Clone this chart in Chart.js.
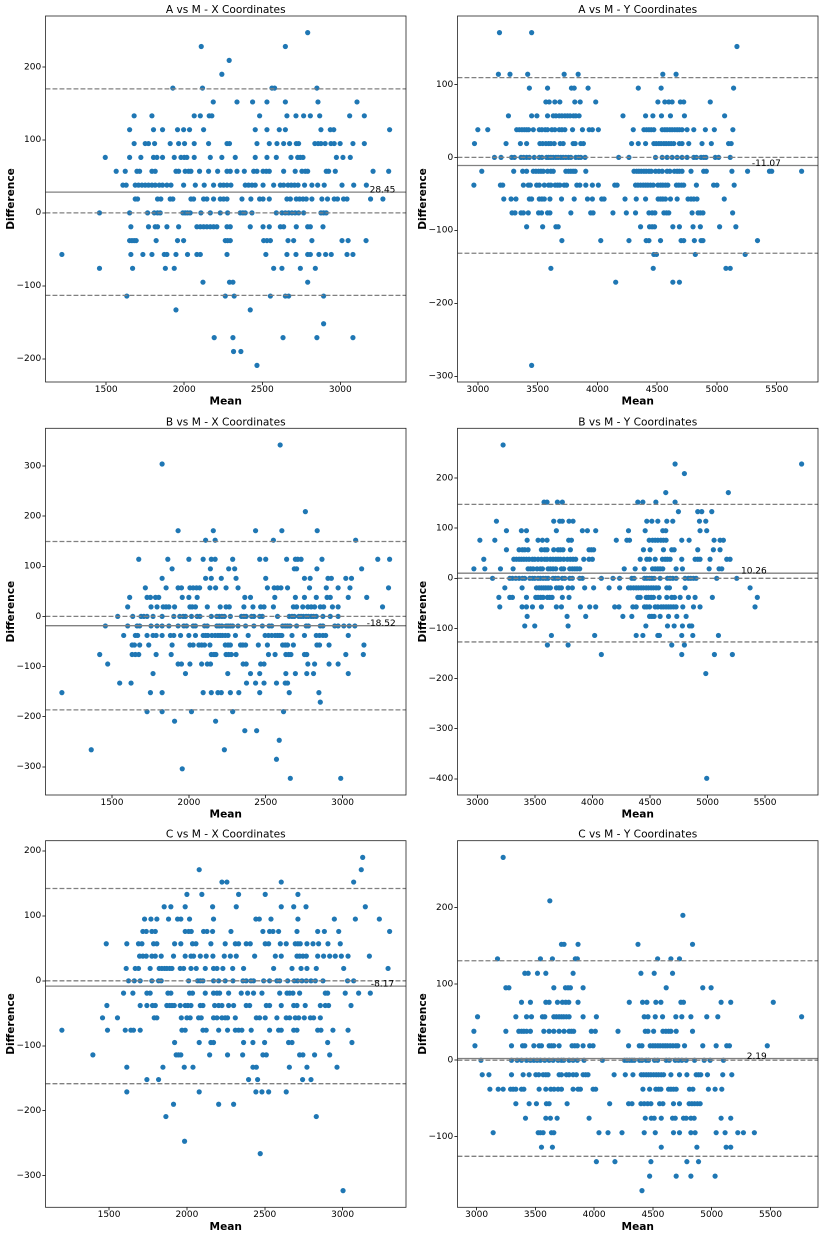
<!DOCTYPE html>
<html>
<head>
<meta charset="utf-8">
<script src="https://cdn.jsdelivr.net/npm/chart.js@4.4.1/dist/chart.umd.min.js"></script>
<style>
  html, body { margin: 0; padding: 0; background: #ffffff; overflow: hidden; }
  body { width: 824px; height: 1235px; position: relative; }
  canvas { position: absolute; }
</style>
</head>
<body>
<canvas id="c0" width="412" height="412" style="left:0px;top:0px;width:412px;height:412px"></canvas>
<canvas id="c1" width="412" height="412" style="left:412px;top:0px;width:412px;height:412px"></canvas>
<canvas id="c2" width="412" height="412" style="left:0px;top:412px;width:412px;height:412px"></canvas>
<canvas id="c3" width="412" height="412" style="left:412px;top:412px;width:412px;height:412px"></canvas>
<canvas id="c4" width="412" height="412" style="left:0px;top:824px;width:412px;height:412px"></canvas>
<canvas id="c5" width="412" height="412" style="left:412px;top:824px;width:412px;height:412px"></canvas>
<script>
// ---------------- DATA ----------------
// Each row: [difference, [means...]]
const titles = ['A vs M - X Coordinates', 'A vs M - Y Coordinates',
                'B vs M - X Coordinates', 'B vs M - Y Coordinates',
                'C vs M - X Coordinates', 'C vs M - Y Coordinates'];
const xAxisLabel = 'Mean';
const yAxisLabel = 'Difference';

const meanDiff = [28.45, -11.07, -18.52, 10.26, -8.17, 2.19];
const upperLoA = [169.96, 109.3, 149.5, 147.5, 142.1, 130.4];
const lowerLoA = [-113.06, -131.4, -186.5, -126.9, -158.4, -126.0];
const labelX   = [3188, 5292, 3157, 5291, 3182, 5298];

const xTicksLeft  = [1500, 2000, 2500, 3000];
const xTicksRight = [3000, 3500, 4000, 4500, 5000, 5500];
const yTicksAX = [-200, -100, 0, 100, 200];
const yTicksAY = [-300, -200, -100, 0, 100];
const yTicksBX = [-300, -200, -100, 0, 100, 200, 300];
const yTicksBY = [-400, -300, -200, -100, 0, 100, 200];
const yTicksCX = [-300, -200, -100, 0, 100, 200];
const yTicksCY = [-100, 0, 100, 200];

const AX_rows = [
  [247, [2791]],
  [228, [2109, 2648]],
  [209, [2288]],
  [190, [2241]],
  [171, [1927, 2117, 2562, 2579, 2850]],
  [152, [2186, 2338, 2438, 2530, 2648, 2857, 3107]],
  [133, [1679, 1793, 2064, 2103, 2160, 2177, 2483, 2658, 2716, 2765, 2808, 2868, 3060, 3154]],
  [114, [1650, 1803, 1861, 1957, 1996, 2034, 2124, 2455, 2530, 2609, 2648, 2876, 2936, 2958, 3316]],
  [95, [1679, 1750, 1771, 1810, 1910, 1964, 2002, 2064, 2156, 2274, 2290, 2466, 2545, 2594, 2637, 2675, 2718, 2733, 2837, 2858, 2876, 2903, 2940, 2961, 2999, 3081, 3154]],
  [76, [1494, 1650, 1722, 1803, 1825, 1861, 1936, 1979, 2000, 2017, 2064, 2167, 2241, 2327, 2455, 2530, 2590, 2684, 2727, 2744, 2761, 2975, 3017, 3064]],
  [57, [1564, 1622, 1697, 1714, 1793, 1814, 1947, 1964, 2006, 2028, 2043, 2098, 2156, 2214, 2274, 2295, 2338, 2385, 2445, 2466, 2505, 2526, 2545, 2637, 2711, 2754, 2776, 2791, 2910, 2925, 2968, 3210, 3310]],
  [38, [1607, 1628, 1686, 1707, 1729, 1750, 1771, 1793, 1814, 1840, 1861, 1889, 1915, 1996, 2071, 2128, 2188, 2231, 2252, 2274, 2299, 2391, 2412, 2434, 2455, 2505, 2573, 2616, 2637, 2665, 2686, 2707, 2729, 2771, 2818, 2855, 2897, 3011, 3086, 3167]],
  [19, [1686, 1701, 1829, 1850, 1910, 1927, 2043, 2060, 2124, 2145, 2188, 2231, 2252, 2274, 2370, 2427, 2483, 2505, 2545, 2658, 2680, 2718, 2739, 2761, 2782, 2818, 2882, 2918, 2961, 2982, 3021, 3043, 3194, 3273]],
  [0, [1457, 1650, 1765, 1808, 1829, 1846, 1991, 2006, 2021, 2038, 2107, 2167, 2231, 2278, 2359, 2376, 2391, 2434, 2590, 2626, 2648, 2669, 2690, 2711, 2733, 2765, 2876, 2893, 2910]],
  [-19, [1658, 1771, 1814, 1829, 1889, 1964, 2081, 2103, 2124, 2145, 2167, 2188, 2209, 2274, 2295, 2423, 2505, 2545, 2616, 2637, 2718, 2791, 2808, 2889]],
  [-38, [1650, 1665, 1679, 1692, 1820, 1957, 1996, 2263, 2278, 2295, 2509, 2530, 2552, 2665, 2701, 2818, 3011, 3050, 3165]],
  [-57, [1216, 1658, 1735, 1793, 1872, 1889, 1947, 2021, 2081, 2103, 2274, 2523, 2658, 2716, 2791, 2808, 2863, 2906, 2942, 3043, 3081]],
  [-76, [1457, 1669, 1879, 1936, 2573, 2626, 2744, 2840]],
  [-95, [2120, 2290, 2312, 2791]],
  [-114, [1632, 2263, 2320, 2552, 2648, 2669, 2893]],
  [-133, [1947, 2423]],
  [-152, [2893]],
  [-171, [2192, 2312, 2633, 2850, 3081]],
  [-190, [2316, 2363]],
  [-209, [2466]]
];

const AY_rows = [
  [171, [3181, 3450]],
  [152, [5167]],
  [114, [3172, 3269, 3417, 3722, 3839, 4547, 4658]],
  [95, [3431, 3583, 3783, 3806, 3922, 4342, 4533, 5139]],
  [76, [3569, 3597, 3644, 3686, 3811, 3856, 3986, 4506, 4564, 4597, 4625, 4694, 4722, 4944]],
  [57, [3256, 3450, 3494, 3583, 3631, 3653, 3681, 3703, 3728, 3750, 3772, 3800, 3819, 3847, 4214, 4403, 4464, 4536, 4611, 4728, 5064]],
  [38, [3000, 3083, 3325, 3347, 3369, 3389, 3408, 3425, 3464, 3514, 3536, 3564, 3583, 3619, 3644, 3681, 3703, 3728, 3792, 3875, 3931, 3958, 4008, 4300, 4389, 4411, 4431, 4450, 4472, 4542, 4564, 4583, 4606, 4625, 4647, 4667, 4686, 4708, 4750, 4806, 4903, 4978, 5133]],
  [19, [2972, 3236, 3356, 3408, 3519, 3542, 3569, 3592, 3611, 3639, 3689, 3714, 3797, 3814, 3861, 3883, 4286, 4342, 4403, 4472, 4492, 4514, 4533, 4556, 4575, 4597, 4617, 4639, 4686, 4708, 4764, 4875, 4953, 5097, 5119]],
  [0, [3139, 3194, 3283, 3306, 3361, 3383, 3408, 3431, 3472, 3514, 3536, 3575, 3592, 3611, 3631, 3653, 3672, 3694, 3714, 3736, 3758, 3778, 3819, 3842, 3861, 3897, 4178, 4264, 4486, 4542, 4583, 4625, 4667, 4708, 4750, 4806, 4828, 4867, 4889, 4908, 4986, 5014, 5111]],
  [-19, [3033, 3300, 3375, 3408, 3464, 3486, 3508, 3528, 3547, 3583, 3611, 3631, 3736, 3758, 3778, 3797, 3814, 3903, 4306, 4328, 4347, 4367, 4389, 4408, 4431, 4450, 4486, 4514, 4542, 4583, 4606, 4644, 4667, 4686, 4708, 4783, 4889, 4911, 5125, 5256, 5439, 5458, 5708]],
  [-38, [2967, 3189, 3208, 3381, 3422, 3439, 3492, 3514, 3556, 3592, 3611, 3647, 3667, 3686, 3722, 3742, 3828, 3853, 3903, 3958, 4008, 4145, 4165, 4319, 4339, 4361, 4383, 4403, 4422, 4444, 4467, 4506, 4528, 4547, 4569, 4589, 4661, 4681, 4703, 4722, 4828, 4972, 5000, 5144]],
  [-57, [3217, 3278, 3319, 3431, 3450, 3514, 3536, 3556, 3603, 3700, 3806, 3917, 3958, 4036, 4056, 4231, 4325, 4403, 4508, 4528, 4547, 4569, 4611, 4667, 4758, 4783, 4806, 4833, 5061]],
  [-76, [3286, 3311, 3361, 3381, 3422, 3508, 3533, 3583, 3603, 3778, 3944, 3964, 4130, 4242, 4319, 4431, 4458, 4481, 4556, 4578, 4597, 4792, 4842, 4861, 4883, 5131]],
  [-95, [3408, 3542, 3653, 3672, 4361, 4436, 4458, 4478, 4631, 4686, 4800, 4861, 5022, 5158]],
  [-114, [3703, 4028, 4264, 4408, 4431, 4528, 4700, 4722, 4811, 4867, 4883, 5339]],
  [-133, [4472, 4494, 4819, 5236]],
  [-152, [3611, 4467, 5075, 5111]],
  [-171, [4153, 4631, 4686]],
  [-285, [3450]]
];

const BX_rows = [
  [342, [2594]],
  [304, [1826]],
  [209, [2758]],
  [171, [1930, 2159, 2434, 2605, 2835]],
  [152, [2109, 2171, 2550, 3085]],
  [114, [1674, 1863, 2000, 2093, 2146, 2171, 2285, 2461, 2500, 2636, 2693, 2708, 2730, 2866, 3229, 3306]],
  [95, [1891, 2140, 2259, 2298, 2686, 2701, 2833, 3124]],
  [76, [1826, 2109, 2146, 2211, 2307, 2500, 2752, 2789, 2905, 2927, 3021, 3058]],
  [57, [1717, 1852, 1930, 1952, 2007, 2028, 2050, 2070, 2137, 2174, 2242, 2320, 2511, 2555, 2577, 2599, 2642, 2785, 2894, 2971, 3048, 3299]],
  [38, [1615, 1728, 1750, 1783, 1804, 1957, 2000, 2054, 2364, 2401, 2559, 2693, 2752, 2829, 2899, 2920, 3037, 3157]],
  [19, [1602, 1754, 1793, 1833, 1852, 1870, 1907, 2007, 2022, 2043, 2120, 2204, 2242, 2263, 2358, 2417, 2467, 2489, 2550, 2680, 2701, 2741, 2774, 2796, 2818, 2855, 2877, 2934, 2971, 3260]],
  [0, [1537, 1635, 1689, 1707, 1728, 1767, 1826, 1902, 1941, 1963, 1978, 2017, 2054, 2072, 2146, 2182, 2198, 2215, 2231, 2270, 2342, 2358, 2373, 2408, 2423, 2461, 2478, 2577, 2653, 2671, 2686, 2715, 2730, 2745, 2763, 2778, 2796, 2811, 2829, 2872, 2920, 2971]],
  [-19, [1457, 1602, 1663, 1680, 1754, 1793, 1826, 1870, 1930, 1967, 1985, 2028, 2043, 2102, 2120, 2182, 2198, 2215, 2242, 2255, 2270, 2285, 2320, 2369, 2423, 2478, 2522, 2539, 2610, 2627, 2642, 2658, 2701, 2763, 2778, 2855, 2872, 2949, 2971, 3008, 3043, 3080]],
  [-38, [1576, 1652, 1667, 1728, 1767, 1787, 1826, 1880, 1902, 1946, 2000, 2043, 2093, 2109, 2124, 2150, 2171, 2189, 2204, 2219, 2237, 2255, 2303, 2386, 2496, 2518, 2539, 2561, 2577, 2592, 2605, 2671, 2752, 2829, 2850, 2872, 2890, 3037]],
  [-57, [1631, 1646, 1680, 1739, 1891, 2007, 2028, 2065, 2083, 2102, 2137, 2237, 2255, 2270, 2336, 2351, 2369, 2452, 2511, 2610, 2627, 2642, 2680, 2833, 2850, 2912, 3139]],
  [-76, [1420, 1631, 1652, 1674, 1787, 1885, 2146, 2163, 2176, 2242, 2259, 2276, 2307, 2518, 2561, 2631, 2649, 2664, 2752, 2767, 3021, 3135]],
  [-95, [1472, 1930, 1952, 2007, 2083, 2120, 2141, 2353, 2373, 2467, 2489, 2774, 2818, 2912, 2971]],
  [-114, [1767, 1978, 2253, 2401, 2461, 2631, 2693, 2767, 2811, 3037]],
  [-133, [1550, 1624, 2375, 2434, 2489, 2570, 2627, 2642]],
  [-152, [1174, 1750, 1826, 2093, 2146, 2189, 2211, 2270, 2325, 2461, 2653, 2846]],
  [-171, [2855]],
  [-190, [1728, 1826, 2017, 2285, 2616]],
  [-209, [1907, 2174]],
  [-228, [2364, 2441]],
  [-247, [2588]],
  [-266, [1365, 2231]],
  [-285, [2570]],
  [-304, [1957]],
  [-323, [2660, 2988]]
];

const BY_rows = [
  [266, [3223]],
  [228, [4718, 5818]],
  [209, [4799]],
  [171, [4637, 5181]],
  [152, [3579, 3605, 3695, 3738, 4394, 4438, 4551, 4718]],
  [133, [4747, 4915, 4950, 5037]],
  [114, [3165, 3663, 3715, 3738, 3796, 3831, 4472, 4516, 4568, 4646, 4698, 4930, 4985]],
  [95, [3252, 3382, 3426, 3686, 3912, 3956, 4028, 4313, 4458, 4611, 4637, 4935, 4993]],
  [76, [3021, 3151, 3432, 3527, 3565, 3605, 3793, 3817, 4207, 4299, 4322, 4493, 4522, 4545, 4568, 4594, 4617, 4640, 4776, 4840, 5057, 5109, 5138]],
  [57, [3252, 3362, 3391, 3411, 3440, 3556, 3585, 3605, 3663, 3701, 3721, 3744, 3808, 3970, 3990, 4010, 4443, 4501, 4617, 4689, 4710, 4915, 5051, 5109]],
  [38, [3055, 3316, 3339, 3362, 3382, 3403, 3426, 3449, 3478, 3498, 3527, 3556, 3585, 3605, 3634, 3657, 3681, 3701, 3721, 3750, 3782, 3808, 3831, 3854, 3924, 3970, 3999, 4415, 4472, 4496, 4545, 4608, 4632, 4652, 4675, 4776, 4892, 4915, 4935, 5022, 5167, 5196]],
  [19, [2969, 3064, 3200, 3310, 3440, 3461, 3484, 3518, 3547, 3565, 3614, 3634, 3657, 3681, 3730, 3750, 3802, 3825, 3846, 3866, 3889, 4276, 4371, 4449, 4522, 4545, 4568, 4588, 4611, 4727, 4782, 5014, 5100, 5124]],
  [0, [3131, 3281, 3304, 3333, 3362, 3391, 3411, 3455, 3478, 3498, 3527, 3547, 3571, 3594, 3614, 3657, 3678, 3701, 3738, 3759, 3802, 3825, 3889, 3912, 4077, 4178, 4236, 4342, 4362, 4452, 4472, 4496, 4516, 4536, 4588, 4652, 4675, 4698, 4727, 4805, 4834, 4854, 4878, 4901, 5080, 5254]],
  [-19, [3238, 3388, 3513, 3536, 3556, 3576, 3594, 3614, 3634, 3686, 3709, 3730, 3788, 3825, 3932, 4010, 4144, 4236, 4313, 4333, 4357, 4380, 4400, 4423, 4443, 4467, 4487, 4510, 4530, 4553, 4574, 4646, 4669, 4805, 5370]],
  [-38, [3186, 3281, 3304, 3426, 3507, 3527, 3550, 3571, 3608, 3628, 3649, 3738, 3796, 4394, 4415, 4467, 4487, 4510, 4530, 4580, 4646, 4689, 4713, 4762, 4834, 4892, 5042, 5433]],
  [-57, [3194, 3388, 3426, 3478, 3556, 3686, 3730, 3895, 3976, 4028, 4193, 4230, 4351, 4380, 4452, 4472, 4496, 4545, 4568, 4597, 4617, 4640, 4661, 4681, 4704, 4727, 4785, 4878, 4935, 5413]],
  [-76, [3432, 3779, 3941, 4264, 4342, 4496, 4516, 4536, 4588, 4661, 4733, 4814]],
  [-95, [3411, 3498, 3788, 4464, 4652, 4710, 4782, 4843, 4863]],
  [-114, [3643, 4019, 4380, 4438, 4568, 4582, 4776, 4872, 5095]],
  [-133, [3608, 3788, 4689, 4799]],
  [-152, [4077, 4776, 5060, 5216]],
  [-190, [4985]],
  [-399, [4993]]
];

const CX_rows = [
  [190, [3129]],
  [171, [2079, 3120]],
  [152, [2225, 2257, 2606, 3071]],
  [133, [2000, 2096, 2332, 2503, 2713]],
  [114, [1854, 1897, 1989, 2165, 2317, 2606, 2686, 2765, 3146]],
  [95, [1728, 1769, 1807, 1882, 1940, 1961, 2017, 2171, 2443, 2465, 2540, 2713, 2947, 3082, 3236]],
  [76, [1717, 1739, 1775, 1797, 1989, 2011, 2028, 2107, 2129, 2165, 2283, 2488, 2531, 2553, 2589, 2707, 2840, 2883, 2975, 3302]],
  [57, [1482, 1614, 1689, 1711, 1786, 1807, 1921, 1961, 2036, 2058, 2154, 2246, 2311, 2332, 2381, 2407, 2503, 2525, 2600, 2638, 2696, 2713, 2728, 2771, 2810, 2846, 2906, 2985]],
  [38, [1696, 1717, 1739, 1775, 1797, 1835, 1914, 1989, 2026, 2043, 2086, 2124, 2167, 2240, 2279, 2317, 2435, 2568, 2606, 2707, 2724, 2745, 2767, 2840, 2878, 2917, 2953, 2992, 3035, 3172]],
  [19, [1610, 1668, 1689, 1764, 1822, 1839, 1856, 1871, 1889, 1904, 1957, 1979, 2026, 2060, 2118, 2171, 2193, 2231, 2294, 2364, 2557, 2675, 2733, 2771, 2831, 3007, 3292]],
  [0, [1625, 1662, 1700, 1775, 1818, 1835, 2011, 2069, 2086, 2103, 2171, 2204, 2246, 2296, 2360, 2381, 2411, 2428, 2493, 2531, 2578, 2596, 2647, 2690, 2711, 2739, 2767, 2797, 2825, 2874, 3032, 3071]],
  [-19, [1593, 1653, 1743, 1764, 1878, 1897, 2017, 2036, 2118, 2171, 2193, 2210, 2268, 2349, 2390, 2428, 2482, 2596, 2643, 2660, 2681, 2724, 2889, 2904, 3017, 3103, 3178]],
  [-38, [1486, 1700, 1743, 1779, 1797, 1871, 1889, 1904, 1919, 1957, 1989, 2006, 2026, 2086, 2103, 2178, 2204, 2225, 2268, 2300, 2381, 2403, 2510, 2531, 2606, 2686, 2707, 2760, 2857, 2889, 2910, 3054]],
  [-57, [1458, 1554, 1790, 1807, 1964, 2000, 2021, 2075, 2092, 2171, 2193, 2225, 2246, 2261, 2311, 2446, 2467, 2503, 2578, 2638, 2660, 2696, 2718, 2754, 2793, 2814, 2857]],
  [-76, [1197, 1490, 1604, 1640, 1657, 1700, 1968, 1989, 2103, 2124, 2204, 2261, 2311, 2332, 2353, 2413, 2531, 2589, 2606, 2686, 2707, 2840, 2861, 2938, 3035]],
  [-95, [1921, 2079, 2154, 2171, 2364, 2424, 2499, 2653, 2675, 2904, 3060]],
  [-114, [1396, 1931, 1946, 1961, 2146, 2261, 2358, 2488, 2510, 2724, 2745, 2820, 2917]],
  [-133, [1614, 1846, 1983, 2039, 2424, 2446, 2658, 2771, 2964]],
  [-152, [1743, 1818, 2396, 2454, 2743, 2797]],
  [-171, [1614, 2079, 2443, 2482, 2525, 2638]],
  [-190, [1914, 2204, 2300]],
  [-209, [1865, 2831]],
  [-247, [1985]],
  [-266, [2471]],
  [-323, [3003]]
];

const CY_rows = [
  [266, [3226]],
  [209, [3623]],
  [190, [4755]],
  [152, [3722, 3744, 3863, 4373, 4837]],
  [133, [3178, 3543, 3645, 3840, 3857, 4540, 4653, 4726]],
  [114, [3410, 3439, 3518, 3589, 3821, 4398, 4511, 4667]],
  [95, [3249, 3275, 3657, 3756, 3778, 3798, 3906, 4613, 4924, 4995]],
  [76, [3382, 3458, 3589, 3617, 3688, 3730, 3758, 3784, 3863, 4299, 4412, 4449, 4525, 4568, 4738, 4760, 5080, 5162, 5524]],
  [57, [3008, 3334, 3425, 3467, 3560, 3580, 3657, 3679, 3702, 3722, 3741, 3764, 3787, 3906, 4019, 4426, 4458, 4520, 4582, 4695, 4746, 4823, 4958, 5052, 5765]],
  [38, [2977, 3249, 3359, 3382, 3402, 3425, 3458, 3572, 3617, 3657, 3702, 3744, 3787, 3807, 3826, 3976, 4010, 4203, 4435, 4458, 4506, 4585, 4610, 4633, 4653, 4698, 4837]],
  [19, [2986, 3297, 3391, 3410, 3487, 3532, 3552, 3617, 3637, 3657, 3702, 3812, 3835, 3857, 3906, 3962, 3991, 4293, 4384, 4407, 4477, 4500, 4520, 4542, 4562, 4585, 4605, 4624, 4647, 4670, 4695, 4712, 4769, 4924, 5038, 5128, 5151, 5473]],
  [0, [3037, 3297, 3345, 3382, 3425, 3458, 3487, 3515, 3543, 3580, 3617, 3651, 3693, 3722, 3741, 3787, 3821, 3857, 3914, 4070, 4259, 4279, 4302, 4322, 4341, 4387, 4407, 4443, 4463, 4514, 4540, 4613, 4639, 4690, 4718, 4746, 4783, 4854, 4936, 4987, 5100]],
  [-19, [3048, 3105, 3297, 3396, 3447, 3504, 3529, 3566, 3589, 3608, 3702, 3722, 3764, 3787, 3821, 3849, 3906, 3928, 3948, 4170, 4265, 4330, 4401, 4421, 4443, 4463, 4483, 4506, 4528, 4548, 4571, 4591, 4653, 4726, 4789, 4868, 4888, 4907, 4964, 5094, 5171]],
  [-38, [3113, 3184, 3226, 3289, 3311, 3334, 3382, 3402, 3532, 3589, 3631, 3659, 3693, 3722, 3821, 3863, 3883, 3991, 4013, 4415, 4472, 4525, 4548, 4568, 4633, 4653, 4675, 4698, 4811, 4840, 4972, 5029, 5086]],
  [-57, [3334, 3447, 3509, 3594, 3617, 3770, 4132, 4293, 4322, 4398, 4426, 4455, 4483, 4557, 4585, 4675, 4726, 4808, 4831, 4854, 4879, 4902]],
  [-76, [3416, 3589, 3628, 3685, 3957, 4435, 4486, 4511, 4571, 4667, 4690, 4760, 4783, 4823, 4851, 5080, 5162]],
  [-95, [3141, 3524, 3543, 3566, 3637, 3657, 4041, 4118, 4237, 4426, 4520, 4675, 4726, 4823, 4859, 5038, 5114, 5222, 5270, 5363]],
  [-114, [3552, 3645, 4571, 4874, 5123, 5162]],
  [-133, [4019, 4177, 4483, 4789, 4888]],
  [-152, [4472, 4698, 4823, 5029]],
  [-171, [4407]]
];

// ---------------- RENDER ----------------
const allRows = [AX_rows, AY_rows, BX_rows, BY_rows, CX_rows, CY_rows];
const allXTicks = [xTicksLeft, xTicksRight, xTicksLeft, xTicksRight, xTicksLeft, xTicksRight];
const allYTicks = [yTicksAX, yTicksAY, yTicksBX, yTicksBY, yTicksCX, yTicksCY];

// layout (pixels, per canvas)
const rowTop = [16, 16.3, 16.7];
const rowAxisH = [30, 29, 28.7];
const FONT = "'DejaVu Sans', 'Liberation Sans', sans-serif";
const fmt = v => (v < 0 ? '\u2212' + Math.abs(v) : String(v));

const decor = {
  id: 'decor',
  afterDatasetsDraw(chart, args, o) {
    const ctx = chart.ctx, a = chart.chartArea;
    const ys = chart.scales.y, xs = chart.scales.x;
    ctx.save();
    ctx.beginPath();
    ctx.rect(a.left, a.top, a.right - a.left, a.bottom - a.top);
    ctx.clip();
    ctx.strokeStyle = '#808080';
    ctx.lineWidth = 1.3;
    const lines = [
      {v: o.mean, dash: []},
      {v: o.upper, dash: [4.9, 2.1]},
      {v: o.lower, dash: [4.9, 2.1]},
      {v: 0, dash: [4.9, 2.1]}
    ];
    lines.forEach(l => {
      const py = ys.getPixelForValue(l.v);
      ctx.setLineDash(l.dash);
      ctx.beginPath();
      ctx.moveTo(a.left, py);
      ctx.lineTo(a.right, py);
      ctx.stroke();
    });
    ctx.restore();

    ctx.save();
    // frame
    ctx.strokeStyle = '#222';
    ctx.lineWidth = 0.8;
    ctx.strokeRect(a.left, a.top, a.right - a.left, a.bottom - a.top);
    // mean text
    ctx.fillStyle = '#000';
    ctx.font = '9px ' + FONT;
    ctx.textAlign = 'left';
    ctx.textBaseline = 'alphabetic';
    ctx.fillText(o.mean.toFixed(2), xs.getPixelForValue(o.labelX), ys.getPixelForValue(o.mean) + 0.5);
    // title
    ctx.font = '10.6px ' + FONT;
    ctx.textAlign = 'center';
    ctx.fillText(o.title, (a.left + a.right) / 2, a.top - 3);
    // axis titles
    ctx.font = 'bold 10.6px ' + FONT;
    ctx.fillText(o.xLabel, (a.left + a.right) / 2, a.bottom + 22.7);
    ctx.translate(14, (a.top + a.bottom) / 2);
    ctx.rotate(-Math.PI / 2);
    ctx.textBaseline = 'alphabetic';
    ctx.fillText(o.yLabel, 0, 0);
    ctx.restore();
  }
};

allRows.forEach((rows, i) => {
  const pts = [];
  rows.forEach(([d, means]) => means.forEach(m => pts.push({x: m, y: d})));
  const xv = pts.map(p => p.x), yv = pts.map(p => p.y);
  const xmin = Math.min(...xv), xmax = Math.max(...xv);
  const ymin = Math.min(...yv), ymax = Math.max(...yv);
  const xm = (xmax - xmin) * 0.05, ym = (ymax - ymin) * 0.05;
  const r = Math.floor(i / 2);
  const xt = allXTicks[i], yt = allYTicks[i];

  new Chart(document.getElementById('c' + i), {
    type: 'scatter',
    data: {
      datasets: [{
        data: pts,
        backgroundColor: '#1f77b4',
        borderColor: '#1f77b4',
        borderWidth: 0,
        pointRadius: 2.6,
        pointHoverRadius: 2.6
      }]
    },
    options: {
      responsive: false,
      animation: false,
      devicePixelRatio: 2,
      events: [],
      layout: {padding: {left: 0, top: rowTop[r], right: 6, bottom: 0}},
      plugins: {
        legend: {display: false},
        tooltip: {enabled: false},
        title: {display: false},
        decor: {
          mean: meanDiff[i], upper: upperLoA[i], lower: lowerLoA[i],
          labelX: labelX[i], title: titles[i], xLabel: xAxisLabel, yLabel: yAxisLabel
        }
      },
      scales: {
        x: {
          type: 'linear',
          min: xmin - xm,
          max: xmax + xm,
          afterBuildTicks: s => { s.ticks = xt.map(v => ({value: v})); },
          afterFit: s => { s.height = rowAxisH[r]; s.paddingLeft = 0; s.paddingRight = 0; },
          border: {display: false},
          grid: {drawOnChartArea: false, drawTicks: true, tickLength: 3.1, tickWidth: 0.8, tickColor: '#000'},
          ticks: {
            autoSkip: false, maxRotation: 0, minRotation: 0, padding: -1,
            color: '#000', font: {family: FONT, size: 9},
            callback: v => fmt(v)
          }
        },
        y: {
          type: 'linear',
          min: ymin - ym,
          max: ymax + ym,
          afterBuildTicks: s => { s.ticks = yt.map(v => ({value: v})); },
          afterFit: s => { s.width = 45.5; s.paddingTop = 0; s.paddingBottom = 0; },
          border: {display: false},
          grid: {drawOnChartArea: false, drawTicks: true, tickLength: 3.1, tickWidth: 0.8, tickColor: '#000'},
          ticks: {
            autoSkip: false, padding: 1.2,
            color: '#000', font: {family: FONT, size: 9},
            callback: v => fmt(v)
          }
        }
      }
    },
    plugins: [decor]
  });
});
</script>
</body>
</html>
